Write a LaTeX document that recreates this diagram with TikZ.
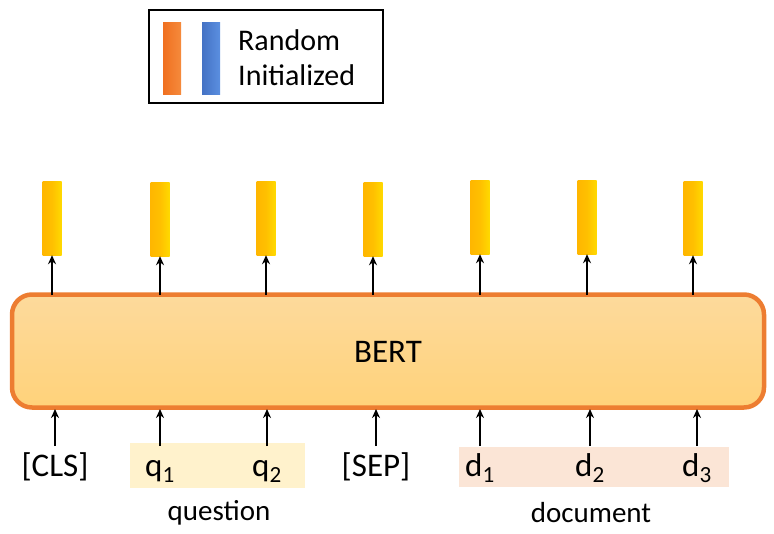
\documentclass[tikz,border=0pt]{standalone}
\usepackage{fontspec}
\setmainfont{Carlito}
\usetikzlibrary{arrows.meta}
\definecolor{bord}{HTML}{ED7D31}
\definecolor{gold}{HTML}{FFC000}
\definecolor{btop}{HTML}{FDDA9C}
\definecolor{bbot}{HTML}{FFD27A}
\definecolor{qfill}{HTML}{FFF2CC}
\definecolor{dfill}{HTML}{FBE5D6}
\definecolor{lor}{HTML}{F58A3C}
\definecolor{lorl}{HTML}{F07020}
\definecolor{lbl}{HTML}{4472C4}
\definecolor{lbll}{HTML}{5B8FE0}
\begin{document}
\begin{tikzpicture}[x=1pt,y=-1pt,
  bar/.style={minimum width=19pt,minimum height=74pt,inner sep=0pt,draw=none,left color=gold!85!orange,right color=gold!60!yellow,middle color=gold},
  arr/.style={-{Stealth[length=9pt,width=8pt]},line width=2.2pt},
  lab/.style={font=\fontsize{33}{33}\selectfont,inner sep=0pt,anchor=base},
  captxt/.style={font=\fontsize{29}{29}\selectfont,inner sep=0pt}]
\useasboundingbox (0,0) rectangle (774,533);
% legend
\node[draw,line width=1.8pt,minimum width=234pt,minimum height=93pt,inner sep=0pt] (leg) at (266,56.5) {};
\node[minimum width=18pt,minimum height=72pt,inner sep=0pt,left color=lorl,right color=lor] (lo) at (172,58) {};
\node[minimum width=18pt,minimum height=72pt,inner sep=0pt,left color=lbl,right color=lbll] (lb) at (211,58) {};
\node[anchor=west,font=\fontsize{30}{30}\selectfont,inner sep=0pt] (t1) at (238,40) {Random};
\node[anchor=west,font=\fontsize{30}{30}\selectfont,inner sep=0pt] (t2) at (238,75) {Initialized};
% BERT
\node[draw=bord,line width=4.5pt,rounded corners=20pt,minimum width=752pt,minimum height=113pt,top color=btop,bottom color=bbot,inner sep=0pt] (bert) at (388,351) {};
\node[font=\fontsize{33}{33}\selectfont] (bt) at (388,352) {BERT};
% highlights
\node[fill=qfill,minimum width=175pt,minimum height=45pt,inner sep=0pt] (qh) at (217.5,465.5) {};
\node[fill=dfill,minimum width=270pt,minimum height=40pt,inner sep=0pt] (dh) at (594,467) {};
\foreach \i/\x/\y in {1/52/218,2/160/219,3/266/218,4/373/219,5/480/217,6/587/217,7/693/218}{
  \node[bar] (o\i) at (\x,\y) {};
  \coordinate (ti\i) at (\x,295);
  \draw[arr] (ti\i) -- (o\i.south);
}
\foreach \i/\x/\t in {1/55/{[CLS]},2/160/{q\textsubscript{1}},3/267/{q\textsubscript{2}},4/376/{[SEP]},5/480/{d\textsubscript{1}},6/590/{d\textsubscript{2}},7/697/{d\textsubscript{3}}}{
  \node[lab] (in\i) at (\x,476) {\t};
  \coordinate (bi\i) at (\x,446);
  \coordinate (be\i) at (\x,409);
  \draw[arr] (bi\i) -- (be\i);
}
\node[captxt] (cq) at (219,513) {question};
\node[captxt] (cd) at (591,513) {document};
\end{tikzpicture}
\end{document}
